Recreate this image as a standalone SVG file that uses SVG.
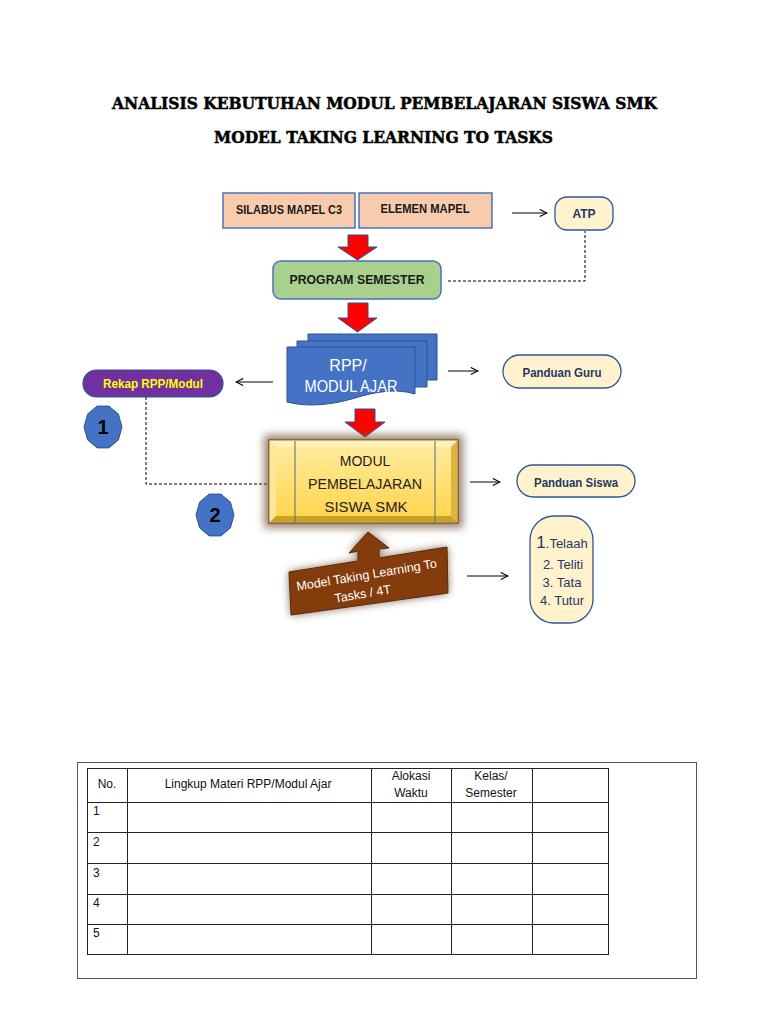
<svg xmlns="http://www.w3.org/2000/svg" width="768" height="1024" viewBox="0 0 768 1024">
<defs>
<style>
.title{font-family:"DejaVu Serif","Liberation Serif",serif;font-weight:bold;font-size:16px;fill:#000;stroke:#000;stroke-width:0.5}
.lbl{font-family:"Liberation Sans",Arial,sans-serif;font-weight:bold;font-size:12px;fill:#1a1a1a;text-anchor:middle}
.nav{font-family:"Liberation Sans",Arial,sans-serif;font-weight:bold;font-size:12px;fill:#1F3864;text-anchor:middle}
.body{font-family:"Liberation Sans",Arial,sans-serif;font-size:14px;fill:#222;text-anchor:middle}
.tbl{font-family:"Liberation Sans",Arial,sans-serif;font-size:12px;fill:#111}
.box{fill:#F8CBAD;stroke:#4472C4;stroke-width:1.5}
.pill{fill:#FFF2CC;stroke:#2F5597;stroke-width:1.3}
.red{fill:#FF0000;stroke:#2F528F;stroke-width:1}
.con{stroke:#000;stroke-width:1;fill:none}
.dash{stroke:#000;stroke-width:1;fill:none;stroke-dasharray:3 2}
.badge{fill:#4472C4;stroke:#2F528F;stroke-width:1}
.doc{fill:#4472C4;stroke:#2F528F;stroke-width:1}
.grid{stroke:#222;stroke-width:1;fill:none}
.badgeTxt{font-family:"Liberation Sans",Arial,sans-serif;font-weight:bold;font-size:20px;fill:#000;text-anchor:middle}
</style>
<marker id="arr" viewBox="0 0 10 10" refX="9" refY="5" markerWidth="9" markerHeight="9" orient="auto" markerUnits="userSpaceOnUse">
<path d="M1,1 L9,5 L1,9" fill="none" stroke="#000" stroke-width="1.2"/>
</marker>
<filter id="blur" x="-20%" y="-30%" width="140%" height="160%">
<feGaussianBlur stdDeviation="4"/>
</filter>
<linearGradient id="yel" x1="0" y1="0" x2="0" y2="1">
<stop offset="0" stop-color="#FFEB9C"/>
<stop offset="1" stop-color="#FFD54F"/>
</linearGradient>
<polygon id="deca" points="19,0 15.4,12.9 5.9,20.9 -5.9,20.9 -15.4,12.9 -19,0 -15.4,-12.9 -5.9,-20.9 5.9,-20.9 15.4,-12.9"/>
</defs>
<rect width="768" height="1024" fill="#fff"/>

<g id="title">
<text class="title" x="384.5" y="109" text-anchor="middle" textLength="545" lengthAdjust="spacingAndGlyphs">ANALISIS KEBUTUHAN MODUL PEMBELAJARAN SISWA SMK</text>
<text class="title" x="383.5" y="143" text-anchor="middle" textLength="339" lengthAdjust="spacingAndGlyphs">MODEL TAKING LEARNING TO TASKS</text>
</g>

<g id="connectors">
<line class="con" x1="512" y1="213" x2="547" y2="213" marker-end="url(#arr)"/>
<polyline class="dash" points="448,281 585,281 585,231"/>
<line class="con" x1="273" y1="382" x2="236" y2="382" marker-end="url(#arr)"/>
<line class="con" x1="448" y1="371" x2="478" y2="371" marker-end="url(#arr)"/>
<polyline class="dash" points="146,397 146,484 270,484"/>
<line class="con" x1="470" y1="482" x2="500" y2="482" marker-end="url(#arr)"/>
<line class="con" x1="467" y1="576" x2="508" y2="576" marker-end="url(#arr)"/>
<polygon class="red" points="348,235 368,235 368,247 377,247 357.5,260 338,247 348,247"/>
<polygon class="red" points="348,303 368,303 368,318 377,318 357.5,332 338,318 348,318"/>
<polygon class="red" points="355,409 375,409 375,422 385,422 365,437 345,422 355,422"/>
</g>

<g id="silabus">
<rect class="box" x="223" y="193" width="132" height="35"/>
<text class="lbl" x="289" y="214" textLength="106" lengthAdjust="spacingAndGlyphs">SILABUS MAPEL C3</text>
</g>
<g id="elemen">
<rect class="box" x="359" y="193" width="133" height="35"/>
<text class="lbl" x="425" y="213" textLength="89" lengthAdjust="spacingAndGlyphs">ELEMEN MAPEL</text>
</g>
<g id="atp">
<rect class="pill" x="555" y="197" width="58" height="33" rx="12"/>
<text class="nav" x="584" y="218">ATP</text>
</g>
<g id="program-semester">
<rect x="273" y="261" width="168" height="38" rx="8" fill="#A9D18E" stroke="#4472C4" stroke-width="1.5"/>
<text class="lbl" x="357" y="284" font-size="13" textLength="135" lengthAdjust="spacingAndGlyphs">PROGRAM SEMESTER</text>
</g>

<g id="rpp">
<path class="doc" d="M308,334 H437 V380 L308,380 Z"/>
<path class="doc" d="M297,341 H427 V387 L297,387 Z"/>
<path class="doc" d="M287,347 H415 V394 C395,388 375,392 355,398 C335,404 310,408 287,402 Z"/>
<text x="348" y="371" font-family="Liberation Sans, Arial, sans-serif" font-size="16" fill="#fff" text-anchor="middle">RPP/</text>
<text x="351" y="392" font-family="Liberation Sans, Arial, sans-serif" font-size="16" fill="#fff" text-anchor="middle" textLength="93" lengthAdjust="spacingAndGlyphs">MODUL AJAR</text>
</g>

<g id="rekap">
<rect x="83" y="370" width="140" height="27" rx="13.5" fill="#7030A0" stroke="#2F5597" stroke-width="1.2"/>
<text class="lbl" x="153" y="388" style="fill:#FFFF00" textLength="100" lengthAdjust="spacingAndGlyphs">Rekap RPP/Modul</text>
</g>

<g id="panduan-guru">
<rect class="pill" x="503" y="355" width="118" height="33" rx="16.5"/>
<text class="nav" x="562" y="377" textLength="79" lengthAdjust="spacingAndGlyphs">Panduan Guru</text>
</g>

<g id="badge-1">
<use href="#deca" class="badge" x="103" y="427"/>
<text class="badgeTxt" x="103" y="434">1</text>
</g>
<g id="badge-2">
<use href="#deca" class="badge" x="215" y="515"/>
<text class="badgeTxt" x="215" y="522">2</text>
</g>

<g id="modul">
<rect x="264" y="435" width="199" height="93" fill="#7B5A3C" opacity="0.75" filter="url(#blur)"/>
<rect x="269" y="440" width="189" height="83" fill="#FFD966" stroke="#6B5B3E" stroke-width="1.5"/>
<polygon points="269.5,440.5 457.5,440.5 451,447 276,447" fill="#FFF2B8"/>
<polygon points="269.5,440.5 276,447 276,516 269.5,522.5" fill="#FFE699"/>
<polygon points="269.5,522.5 276,516 451,516 457.5,522.5" fill="#C9A227"/>
<polygon points="457.5,440.5 451,447 451,516 457.5,522.5" fill="#DDB53E"/>
<rect x="276" y="447" width="175" height="69" fill="url(#yel)"/>
<line x1="295" y1="441" x2="295" y2="522" stroke="#5A6B7B" stroke-width="1"/>
<line x1="435" y1="441" x2="435" y2="522" stroke="#5A6B7B" stroke-width="1"/>
<text class="body" x="365" y="466">MODUL</text>
<text class="body" x="365" y="489" textLength="114" lengthAdjust="spacingAndGlyphs">PEMBELAJARAN</text>
<text class="body" x="366" y="512" textLength="83" lengthAdjust="spacingAndGlyphs">SISWA SMK</text>
</g>

<g id="panduan-siswa">
<rect class="pill" x="517" y="465" width="118" height="32" rx="16"/>
<text class="nav" x="576" y="487" textLength="84" lengthAdjust="spacingAndGlyphs">Panduan Siswa</text>
</g>

<g id="model-4t">
<polygon points="289,572 358,561 358,551 349,553 368,532 389,548 379,549 379,558 447,547 448,593 291,615" fill="#5A3A20" opacity="0.8" filter="url(#blur)"/>
<polygon points="289,572 358,561 358,551 349,553 368,532 389,548 379,549 379,558 447,547 448,593 291,615" fill="#843C0C" stroke="#5B2A0A" stroke-width="1"/>
<g transform="rotate(-9.5 368 583)">
<text x="368" y="579" font-family="Liberation Sans, Arial, sans-serif" font-size="12.5" fill="#fff" text-anchor="middle">Model Taking Learning To</text>
<text x="361" y="597" font-family="Liberation Sans, Arial, sans-serif" font-size="12.5" fill="#fff" text-anchor="middle">Tasks / 4T</text>
</g>
</g>

<g id="tahapan">
<rect class="pill" x="530" y="516" width="63" height="107" rx="24"/>
<text x="562" y="548" font-family="Liberation Sans, Arial, sans-serif" font-size="13" fill="#1F3864" text-anchor="middle"><tspan font-size="17">1</tspan>.Telaah</text>
<text x="563" y="569" font-family="Liberation Sans, Arial, sans-serif" font-size="13" fill="#1F3864" text-anchor="middle">2. Teliti</text>
<text x="562" y="587" font-family="Liberation Sans, Arial, sans-serif" font-size="13" fill="#1F3864" text-anchor="middle">3. Tata</text>
<text x="562" y="605" font-family="Liberation Sans, Arial, sans-serif" font-size="13" fill="#1F3864" text-anchor="middle">4. Tutur</text>
</g>

<g id="table">
<rect x="77.5" y="762.5" width="619" height="216" fill="none" stroke="#555" stroke-width="1"/>
<rect class="grid" x="87.5" y="768.5" width="521" height="186"/>
<path class="grid" d="M127.5,768.5V954.5 M371.5,768.5V954.5 M451.5,768.5V954.5 M532.5,768.5V954.5 M87.5,802.5H608.5 M87.5,832.5H608.5 M87.5,863.5H608.5 M87.5,894.5H608.5 M87.5,924.5H608.5"/>
<text class="tbl" x="107" y="788" text-anchor="middle">No.</text>
<text class="tbl" x="248" y="788" text-anchor="middle">Lingkup Materi RPP/Modul Ajar</text>
<text class="tbl" x="411" y="780" text-anchor="middle">Alokasi</text>
<text class="tbl" x="411" y="797" text-anchor="middle">Waktu</text>
<text class="tbl" x="491" y="780" text-anchor="middle">Kelas/</text>
<text class="tbl" x="491" y="797" text-anchor="middle">Semester</text>
<text class="tbl" x="93" y="815">1</text>
<text class="tbl" x="93" y="846">2</text>
<text class="tbl" x="93" y="877">3</text>
<text class="tbl" x="93" y="907">4</text>
<text class="tbl" x="93" y="937">5</text>
</g>
</svg>
